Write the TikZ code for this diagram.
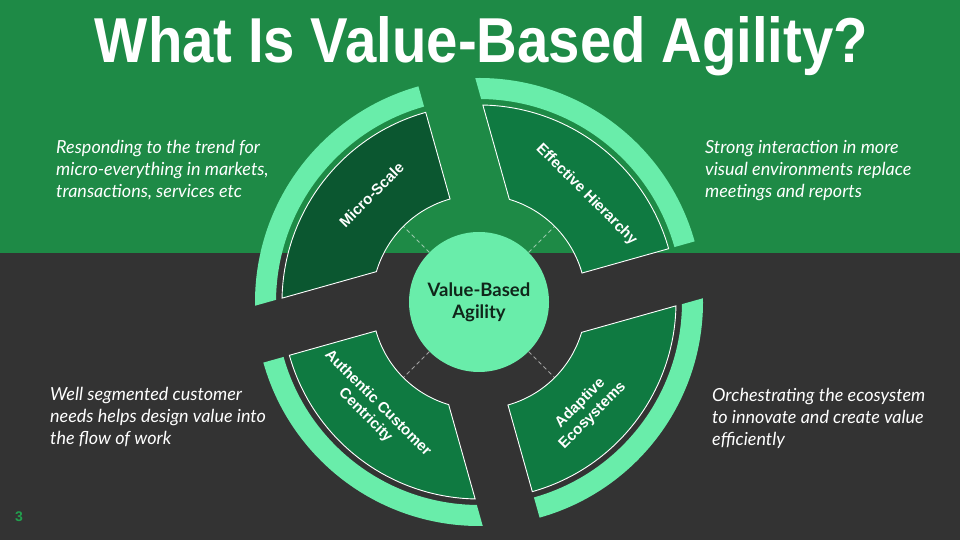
\documentclass[tikz,border=0pt]{standalone}
\usepackage{fontspec}
\setmainfont{Liberation Sans}
\newfontfamily\lato{Lato}
\newfontfamily\arialf{Liberation Sans}
\usetikzlibrary{calc}
\definecolor{topgreen}{HTML}{1E8A46}
\definecolor{darkbg}{HTML}{333333}
\definecolor{segfill}{HTML}{0F7A41}
\definecolor{microfill}{HTML}{0B5730}
\definecolor{mint}{HTML}{69EDAA}
\definecolor{hubtext}{HTML}{10261A}
\definecolor{pagegreen}{HTML}{22A04E}
\begin{document}
\begin{tikzpicture}[x=1pt,y=1pt,
  seglabel/.style={font=\arialf\bfseries\fontsize{15}{17.5}\selectfont, text=white, align=center, inner sep=0},
  desc/.style={font=\lato\itshape\fontsize{18}{22}\selectfont, text=white, align=left, anchor=base west, inner sep=0},
  segshape/.style={draw=white, line width=0.9pt},
  link/.style={draw=white, draw opacity=0.55, dash pattern=on 4pt off 3pt, line width=0.9pt},
  hubstyle/.style={circle, fill=mint, minimum size=140pt, inner sep=0, align=center, text=hubtext, font=\lato\bfseries\fontsize{18.5}{22}\selectfont}]
\useasboundingbox (0,0) rectangle (960,540);
\fill[darkbg] (0,0) rectangle (960,287);
\fill[topgreen] (0,287) rectangle (960,540);

\def\rin{107}\def\rout{197}\def\rbi{203}\def\rbo{224}\def\gw{57}
\pgfmathsetmacro{\din}{asin(\gw/\rin)}
\pgfmathsetmacro{\dout}{asin(\gw/\rout)}
\pgfmathsetmacro{\dbi}{asin(\gw/\rbi)}
\pgfmathsetmacro{\dbo}{asin(\gw/\rbo)}

\begin{scope}[shift={(479,238)}]
\foreach \a/\col in {15.7/segfill, 105.7/microfill, 195.7/segfill, 285.7/segfill}{
  \pgfmathsetmacro{\ein}{\a+90-\din}
  \pgfmathsetmacro{\eout}{\a+90-\dout}
  \pgfmathsetmacro{\ebi}{\a+90-\dbi}
  \pgfmathsetmacro{\ebo}{\a+90-\dbo}
  \path[fill=\col, segshape] (\a:\rin) -- (\a:\rout) arc[start angle=\a, end angle=\eout, radius=\rout] -- (\ein:\rin) arc[start angle=\ein, end angle=\a, radius=\rin] -- cycle;
  \fill[mint] (\a:\rbi) -- (\a:\rbo) arc[start angle=\a, end angle=\ebo, radius=\rbo] -- (\ebi:\rbi) arc[start angle=\ebi, end angle=\a, radius=\rbi] -- cycle;
}
\end{scope}

\node[hubstyle] (hub) at (479,238) {Value-Based\\Agility};
\foreach \ang/\nm in {45/dne, 135/dnw, 225/dsw, 315/dse}{
  \coordinate (\nm) at ($(hub.center)+(\ang:\rin)$);
  \draw[link] (hub.\ang) -- (\nm);
}

\node[seglabel, rotate=45] (micro) at ($(hub.center)+(135:152)$) {Micro-Scale};
\node[seglabel, rotate=-45] (effective) at ($(hub.center)+(45:152)$) {Effective Hierarchy};
\node[seglabel, rotate=-45] (authentic) at ($(hub.center)+(225:152)$) {Authentic Customer\\Centricity};
\node[seglabel, rotate=45] (adaptive) at ($(hub.center)+(315:152)$) {Adaptive\\Ecosystems};

\node[anchor=base, inner sep=0, text=white] (title) at (481.5,477)
  {\resizebox{773pt}{46pt}{\arialf\bfseries What Is Value-Based Agility?}};

\node[desc] (dtl) at (56,342) {Responding to the trend for\\micro-everything in markets,\\transactions, services etc};
\node[desc] (dtr) at (705,342) {Strong interaction in more\\visual environments replace\\meetings and reports};
\node[desc] (dbl) at (50,95) {Well segmented customer\\needs helps design value into\\the flow of work};
\node[desc] (dbr) at (712,94) {Orchestrating the ecosystem\\to innovate and create value\\efficiently};

\node[anchor=base, inner sep=0, text=pagegreen, font=\arialf\bfseries\fontsize{14}{16}\selectfont] (pagenum) at (19,18) {3};
\end{tikzpicture}
\end{document}
